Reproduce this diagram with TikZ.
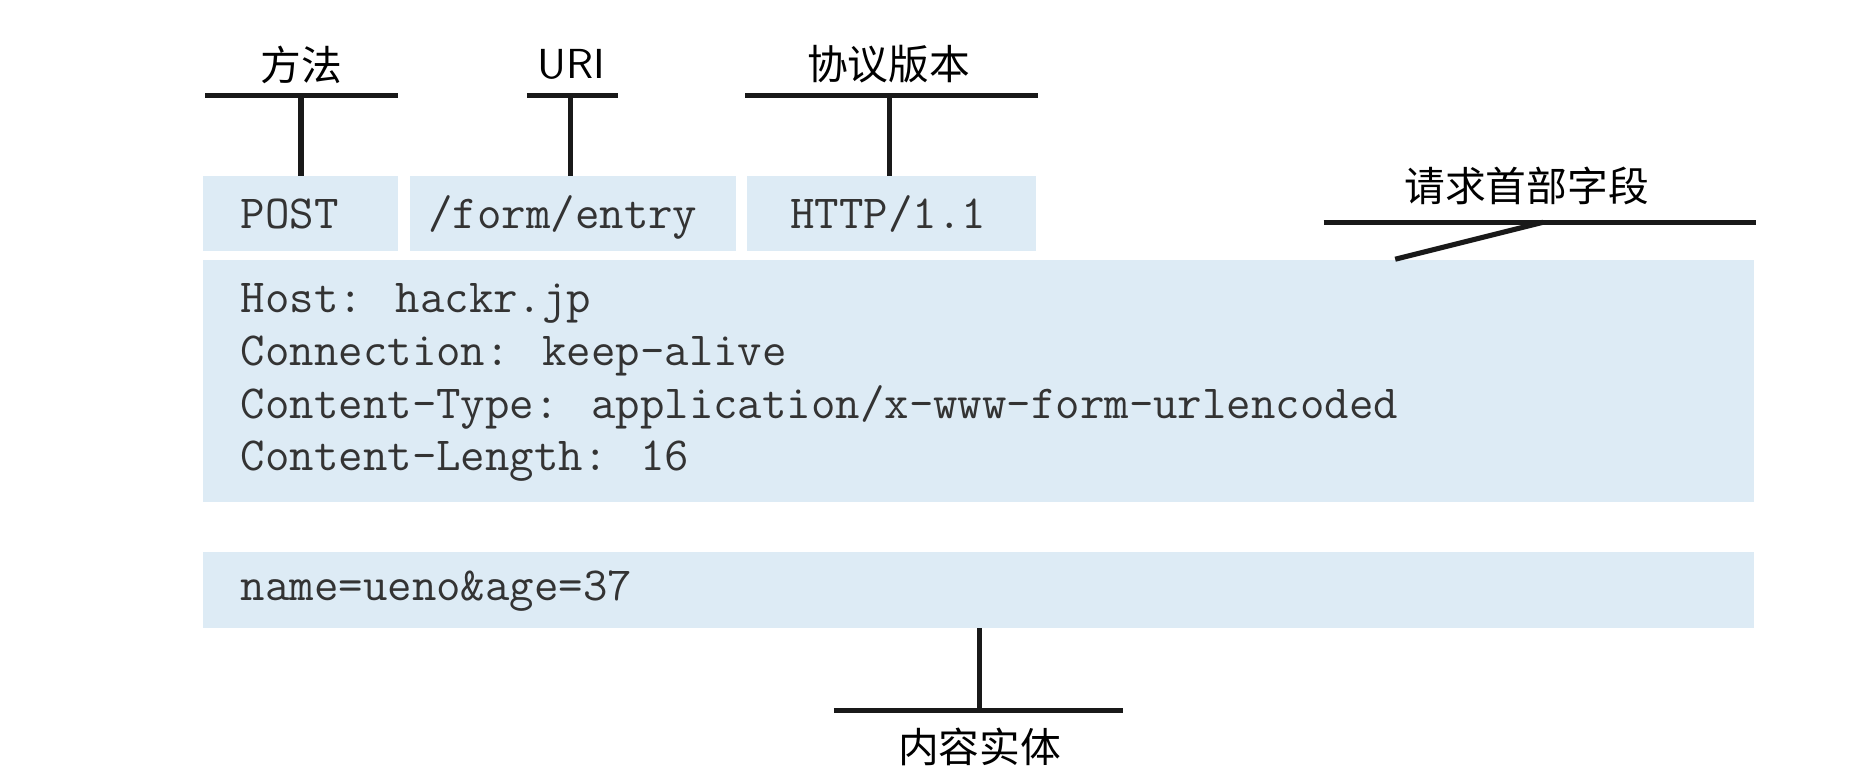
\documentclass[tikz,border=0pt]{standalone}
\usepackage{fontspec}
\newfontfamily\cjk{Noto Sans CJK SC}
\definecolor{boxblue}{HTML}{DDEBF5}
\begin{document}
\begin{tikzpicture}[x=0.01cm,y=-0.01cm,
  blk/.style={fill=boxblue,draw=none},
  bar/.style={line width=1.2pt,black!90},
  lbl/.style={font=\cjk\fontsize{9.7}{12}\selectfont,inner sep=0},
  mono/.style={font=\ttfamily\fontsize{11.3}{12.5}\selectfont,inner sep=0,anchor=base west,text=black!80}]
\useasboundingbox (0,0) rectangle (1568,656);
\fill[white] (0,0) rectangle (1568,656);
% boxes
\fill[blk] (170,147) rectangle (333,210);
\fill[blk] (343,147) rectangle (616,210);
\fill[blk] (625,147) rectangle (867,210);
\fill[blk] (170,218) rectangle (1468,420);
\fill[blk] (170,462) rectangle (1468,526);
\node[mono] (post) at (201,191) {POST};
\node[mono] (uri) at (358,191) {/form/entry};
\node[mono] (ver) at (661,191) {HTTP/1.1};
\node[mono] (h1) at (201,262) {Host: hackr.jp};
\node[mono] (h2) at (201,306) {Connection: keep-alive};
\node[mono] (h3) at (201,350) {Content-Type: application/x-www-form-urlencoded};
\node[mono] (h4) at (201,394) {Content-Length: 16};
\node[mono] (body) at (201,503) {name=ueno\&age=37};
% labels
\node[lbl] (l1) at (252,54) {方法};
\node[lbl,font=\sffamily\fontsize{10}{12}\selectfont] (l2) at (478,54) {URI};
\node[lbl] (l3) at (744,54) {协议版本};
\node[lbl] (l4) at (1278,156) {请求首部字段};
\node[lbl] (l5) at (820,625) {内容实体};
\coordinate (a1) at (252,147); \coordinate (a2) at (478,147); \coordinate (a3) at (745,147);
\draw[bar] (172,80) -- (333,80); \draw[bar] (252,80) -- (a1);
\draw[bar] (441,80) -- (517,80); \draw[bar] (478,80) -- (a2);
\draw[bar] (624,80) -- (869,80); \draw[bar] (745,80) -- (a3);
\coordinate (a4) at (1168,217);
\draw[bar] (1108,186) -- (1470,186); \draw[bar] (1292,186) -- (a4);
\coordinate (a5) at (820,526);
\draw[bar] (698,595) -- (940,595); \draw[bar] (820,595) -- (a5);
\end{tikzpicture}
\end{document}
